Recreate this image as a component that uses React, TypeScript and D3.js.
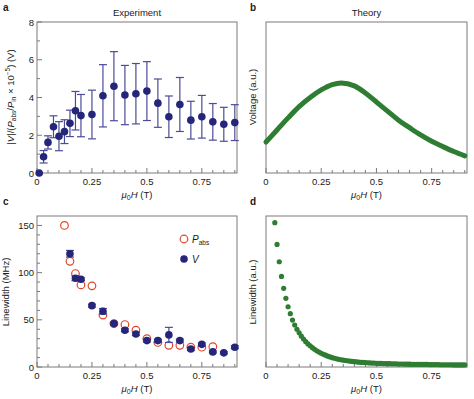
import React, { useEffect, useRef } from 'react';
import * as d3 from 'd3';

// Panel a: experiment, |V| normalised
const expField = [0.01, 0.03, 0.05, 0.075, 0.1, 0.125, 0.15, 0.175, 0.2, 0.25, 0.3, 0.35, 0.4, 0.45, 0.5, 0.55, 0.6, 0.65, 0.7, 0.75, 0.8, 0.85, 0.9];
const expVolt = [0, 0.86, 1.62, 2.45, 1.95, 2.19, 2.63, 3.3, 3.04, 3.1, 4.09, 4.6, 4.13, 4.2, 4.34, 3.7, 2.98, 3.63, 2.8, 2.98, 2.71, 2.58, 2.67];
const expErr = [0, 0.33, 0.35, 0.58, 0.77, 0.63, 0.7, 1.02, 1.12, 1.29, 1.65, 1.83, 1.57, 1.6, 1.56, 1.28, 1.1, 1.43, 1.0, 1.13, 0.97, 0.9, 0.95];

// Panel b: theory voltage (a.u.)
const theoryField = [0, 0.05, 0.1, 0.15, 0.2, 0.25, 0.3, 0.34, 0.4, 0.45, 0.5, 0.55, 0.6, 0.65, 0.7, 0.75, 0.8, 0.85, 0.9];
const theoryVolt = [0.205, 0.285, 0.365, 0.44, 0.5, 0.55, 0.585, 0.596, 0.577, 0.53, 0.47, 0.41, 0.35, 0.3, 0.252, 0.21, 0.175, 0.142, 0.113];

// Panel c: linewidth from P_abs and from V
const pabsField = [0.125, 0.15, 0.175, 0.2, 0.25, 0.3, 0.35, 0.4, 0.45, 0.5, 0.55, 0.6, 0.65, 0.7, 0.75, 0.8];
const pabsWidth = [150, 112, 99, 87, 86, 55, 46, 45, 39, 30, 26, 23, 23, 21, 21, 21.5];
const vField = [0.15, 0.175, 0.2, 0.25, 0.3, 0.35, 0.4, 0.45, 0.5, 0.55, 0.6, 0.65, 0.7, 0.75, 0.8, 0.85, 0.9];
const vWidth = [120, 94, 93, 65, 59, 46, 39, 35, 28, 28, 34, 28, 19, 24, 16, 15, 21];
const vErr = [3.5, 2.5, 1.5, 1.5, 3, 1.5, 1.5, 1.5, 1.5, 1.5, 8, 1.5, 1.5, 1.5, 1, 1, 1.5];

// Panel d: theory linewidth (a.u.)
const lwField = d3.range(4, 91).map(i => i / 100);
const lwValue = [
  0.956, 0.812, 0.697, 0.6, 0.521, 0.455, 0.399, 0.353, 0.311, 0.278,
  0.25, 0.226, 0.204, 0.185, 0.168, 0.153, 0.14, 0.128, 0.117, 0.107,
  0.099, 0.091, 0.084, 0.078, 0.072, 0.067, 0.062, 0.058, 0.054, 0.051,
  0.048, 0.045, 0.043, 0.041, 0.039, 0.037, 0.035, 0.034, 0.032, 0.031,
  0.03, 0.029, 0.028, 0.027, 0.026, 0.026, 0.025, 0.024, 0.024, 0.023,
  0.023, 0.022, 0.022, 0.021, 0.021, 0.021, 0.02, 0.02, 0.02, 0.019,
  0.019, 0.019, 0.018, 0.018, 0.018, 0.018, 0.017, 0.017, 0.017, 0.017,
  0.016, 0.016, 0.016, 0.016, 0.016, 0.015, 0.015, 0.015, 0.015, 0.015,
  0.015, 0.014, 0.014, 0.014, 0.014, 0.014, 0.014
];

const xTickLabels = ['0', '0.25', '0.5', '0.75'];

const FONT = 'Liberation Sans, Arial, sans-serif';
const FRAME = '#7a7a7a';
const TEXT = '#1a1a1a';
const NAVY = '#25257a';
const BAR = '#4b4b98';
const GREEN = '#2e7d32';
const RED = '#e0452a';

const App = () => {
  const ref = useRef(null);

  useEffect(() => {
    const svg = d3.select(ref.current);
    svg.selectAll('*').remove();

    // draws frame, inward ticks, labels
    const frame = (x, y, opt) => {
      const [x0, x1] = x.range();
      const [y0, y1] = y.range();
      const g = svg.append('g');
      g.append('rect')
        .attr('x', x0).attr('y', y1)
        .attr('width', x1 - x0).attr('height', y0 - y1)
        .attr('fill', 'none').attr('stroke', FRAME).attr('stroke-width', 1);

      // x ticks: minor every 0.05, major every 0.25
      d3.range(0, 0.91, 0.05).forEach(v => {
        const major = Math.abs(v / 0.25 - Math.round(v / 0.25)) < 1e-6;
        g.append('line')
          .attr('x1', x(v)).attr('x2', x(v))
          .attr('y1', y0).attr('y2', y0 - (major ? 5 : 3))
          .attr('stroke', FRAME).attr('stroke-width', 1);
      });
      xTickLabels.forEach(t => {
        g.append('text')
          .attr('x', x(+t)).attr('y', y0 + 12)
          .attr('text-anchor', 'middle')
          .style('font-family', FONT).style('font-size', '9.5px').style('fill', TEXT)
          .text(t);
      });

      if (opt.yMajor) {
        opt.yMinor.forEach(v => {
          g.append('line')
            .attr('x1', x0).attr('x2', x0 + 3)
            .attr('y1', y(v)).attr('y2', y(v))
            .attr('stroke', FRAME);
        });
        opt.yMajor.forEach(v => {
          g.append('line')
            .attr('x1', x0).attr('x2', x0 + 5)
            .attr('y1', y(v)).attr('y2', y(v))
            .attr('stroke', FRAME);
          g.append('text')
            .attr('x', x0 - 3).attr('y', y(v) + 3.5)
            .attr('text-anchor', 'end')
            .style('font-family', FONT).style('font-size', '9.5px').style('fill', TEXT)
            .text(v);
        });
      }

      // x label: mu_0 H (T)
      const xl = g.append('text')
        .attr('x', (x0 + x1) / 2).attr('y', y0 + 25)
        .attr('text-anchor', 'middle')
        .style('font-family', FONT).style('font-size', '9.5px').style('fill', TEXT);
      xl.append('tspan').style('font-style', 'italic').text('μ');
      xl.append('tspan').attr('dy', 2).style('font-size', '7px').text('0');
      xl.append('tspan').attr('dy', -2).style('font-style', 'italic').text('H');
      xl.append('tspan').text(' (T)');

      // panel letter
      g.append('text')
        .attr('x', opt.letterX).attr('y', y1 - 11)
        .style('font-family', FONT).style('font-size', '10px').style('font-weight', 'bold').style('fill', TEXT)
        .text(opt.letter);

      if (opt.title) {
        g.append('text')
          .attr('x', (x0 + x1) / 2).attr('y', y1 - 6)
          .attr('text-anchor', 'middle')
          .style('font-family', FONT).style('font-size', '9.5px').style('fill', TEXT)
          .text(opt.title);
      }
      return g;
    };

    const yLabel = (cx, cy) => svg.append('text')
      .attr('transform', `translate(${cx},${cy}) rotate(-90)`)
      .attr('text-anchor', 'middle')
      .style('font-family', FONT).style('font-size', '9.5px').style('fill', TEXT);

    // ---------- panel a ----------
    const xa = d3.scaleLinear().domain([0, 0.91]).range([37, 237]);
    const ya = d3.scaleLinear().domain([0, 8]).range([173, 22]);
    frame(xa, ya, {
      yMajor: [0, 2, 4, 6, 8], yMinor: [1, 3, 5, 7],
      letter: 'a', letterX: 3, title: 'Experiment'
    });
    const la = yLabel(14, 97);
    la.append('tspan').text('|');
    la.append('tspan').style('font-style', 'italic').text('V');
    la.append('tspan').text('|/(');
    la.append('tspan').style('font-style', 'italic').text('P');
    la.append('tspan').attr('dy', 2).style('font-size', '6.5px').text('abs');
    la.append('tspan').attr('dy', -2).text('/');
    la.append('tspan').style('font-style', 'italic').text('P');
    la.append('tspan').attr('dy', 2).style('font-size', '6.5px').text('in');
    la.append('tspan').attr('dy', -2).text(' × 10');
    la.append('tspan').attr('dy', -4).style('font-size', '6.5px').text('−5');
    la.append('tspan').attr('dy', 4).text(') (V)');

    const ga = svg.append('g');
    expField.forEach((f, i) => {
      if (expErr[i] <= 0) return;
      const cx = xa(f);
      const top = ya(expVolt[i] + expErr[i]);
      const bot = ya(expVolt[i] - expErr[i]);
      ga.append('line').attr('x1', cx).attr('x2', cx).attr('y1', top).attr('y2', bot)
        .attr('stroke', BAR).attr('stroke-width', 1.2);
      [top, bot].forEach(yy => ga.append('line')
        .attr('x1', cx - 4).attr('x2', cx + 4).attr('y1', yy).attr('y2', yy)
        .attr('stroke', BAR).attr('stroke-width', 1.2));
    });
    ga.selectAll('circle').data(expField).enter().append('circle')
      .attr('cx', d => xa(d))
      .attr('cy', (d, i) => ya(expVolt[i]))
      .attr('r', 3.8)
      .attr('fill', NAVY);

    // ---------- panel b ----------
    const xb = d3.scaleLinear().domain([0, 0.91]).range([266, 467]);
    const yb = d3.scaleLinear().domain([0, 1]).range([173, 22]);
    frame(xb, yb, { letter: 'b', letterX: 250, title: 'Theory' });
    yLabel(256, 97).text('Voltage (a.u.)');
    const line = d3.line()
      .x(d => xb(d))
      .y((d, i) => yb(theoryVolt[i]))
      .curve(d3.curveMonotoneX);
    svg.append('path')
      .attr('d', line(theoryField))
      .attr('fill', 'none')
      .attr('stroke', GREEN)
      .attr('stroke-width', 5)
      .attr('stroke-linecap', 'round');

    // ---------- panel c ----------
    const xc = d3.scaleLinear().domain([0, 0.91]).range([37, 237]);
    const yc = d3.scaleLinear().domain([0, 160]).range([367, 216]);
    frame(xc, yc, {
      yMajor: [0, 50, 100, 150],
      yMinor: d3.range(10, 160, 10).filter(v => v % 50 !== 0),
      letter: 'c', letterX: 3
    });
    yLabel(9, 292).text('Linewidth (MHz)');

    const gc = svg.append('g');
    gc.selectAll('.pabs').data(pabsField).enter().append('circle')
      .attr('class', 'pabs')
      .attr('cx', d => xc(d))
      .attr('cy', (d, i) => yc(pabsWidth[i]))
      .attr('r', 3.8)
      .attr('fill', 'none')
      .attr('stroke', RED)
      .attr('stroke-width', 1.2);
    vField.forEach((f, i) => {
      const cx = xc(f);
      const top = yc(vWidth[i] + vErr[i]);
      const bot = yc(vWidth[i] - vErr[i]);
      gc.append('line').attr('x1', cx).attr('x2', cx).attr('y1', top).attr('y2', bot)
        .attr('stroke', BAR).attr('stroke-width', 1.2);
      [top, bot].forEach(yy => gc.append('line')
        .attr('x1', cx - 4).attr('x2', cx + 4).attr('y1', yy).attr('y2', yy)
        .attr('stroke', BAR).attr('stroke-width', 1.2));
    });
    gc.selectAll('.v').data(vField).enter().append('circle')
      .attr('class', 'v')
      .attr('cx', d => xc(d))
      .attr('cy', (d, i) => yc(vWidth[i]))
      .attr('r', 3.8)
      .attr('fill', NAVY);

    // legend
    gc.append('circle').attr('cx', 184).attr('cy', 239).attr('r', 3.8)
      .attr('fill', 'none').attr('stroke', RED).attr('stroke-width', 1.2);
    const lp = gc.append('text').attr('x', 192).attr('y', 243)
      .style('font-family', FONT).style('font-size', '10px').style('fill', TEXT);
    lp.append('tspan').style('font-style', 'italic').text('P');
    lp.append('tspan').attr('dy', 2).style('font-size', '6.5px').text('abs');
    gc.append('circle').attr('cx', 184).attr('cy', 259).attr('r', 3.8).attr('fill', NAVY);
    gc.append('text').attr('x', 192).attr('y', 263)
      .style('font-family', FONT).style('font-size', '10px').style('font-style', 'italic').style('fill', TEXT)
      .text('V');

    // ---------- panel d ----------
    const xd = d3.scaleLinear().domain([0, 0.91]).range([266, 467]);
    const yd = d3.scaleLinear().domain([0, 1]).range([367, 216]);
    frame(xd, yd, { letter: 'd', letterX: 250 });
    yLabel(256, 292).text('Linewidth (a.u.)');
    svg.append('g').selectAll('circle').data(lwField).enter().append('circle')
      .attr('cx', d => xd(d))
      .attr('cy', (d, i) => yd(lwValue[i]))
      .attr('r', 2.6)
      .attr('fill', GREEN);
  }, []);

  return (
    <svg
      ref={ref}
      width={474}
      height={399}
      style={{ position: 'absolute', left: 0, top: 0, background: '#fff' }}
    />
  );
};

export default App;
